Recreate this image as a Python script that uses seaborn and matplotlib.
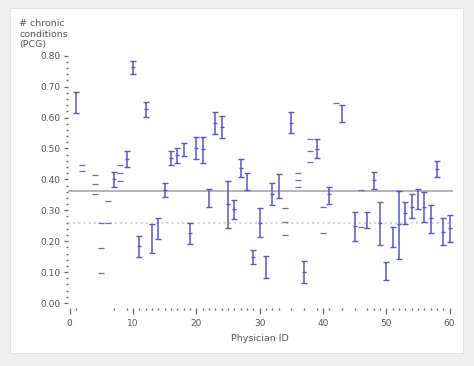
import numpy as np
import pandas as pd
import matplotlib
matplotlib.use("Agg")
import matplotlib.pyplot as plt
from matplotlib.patches import Rectangle
from matplotlib.ticker import FixedLocator
import seaborn as sns

# ---- data ----
# physicians with a full interval
full_id = [1, 7, 9, 10, 11, 12, 13, 14, 15, 16, 17, 18, 19, 20, 21, 22, 23, 24, 25, 26,
           27, 28, 29, 30, 31, 32, 33, 35, 37, 39, 41, 43, 45, 47, 48, 49, 50, 51, 52, 53,
           54, 55, 56, 57, 58, 59, 60]
full_lo = [0.616, 0.376, 0.439, 0.740, 0.150, 0.601, 0.161, 0.207, 0.344, 0.447, 0.454, 0.476,
           0.191, 0.465, 0.452, 0.312, 0.547, 0.534, 0.242, 0.271, 0.409, 0.366, 0.126, 0.213,
           0.080, 0.317, 0.339, 0.549, 0.066, 0.469, 0.320, 0.587, 0.202, 0.242, 0.368, 0.188,
           0.074, 0.180, 0.141, 0.256, 0.274, 0.303, 0.263, 0.228, 0.407, 0.188, 0.198]
full_mid = [np.nan, 0.400, 0.466, 0.763, 0.184, 0.627, np.nan, np.nan, 0.366, 0.468, 0.478, np.nan,
            0.228, 0.500, 0.497, np.nan, 0.584, 0.569, 0.320, 0.303, 0.438, np.nan, 0.148, 0.260,
            np.nan, 0.353, np.nan, 0.584, 0.101, 0.498, 0.353, np.nan, 0.249, np.nan, 0.398, 0.260,
            np.nan, np.nan, 0.255, 0.292, 0.312, np.nan, 0.312, 0.274, 0.433, 0.231, 0.242]
full_hi = [0.682, 0.425, 0.493, 0.784, 0.217, 0.650, 0.255, 0.276, 0.387, 0.493, 0.500, 0.519,
           0.260, 0.536, 0.536, 0.368, 0.619, 0.605, 0.396, 0.333, 0.467, 0.420, 0.172, 0.308,
           0.152, 0.389, 0.417, 0.619, 0.137, 0.530, 0.376, 0.641, 0.296, 0.296, 0.425, 0.328,
           0.134, 0.245, 0.363, 0.328, 0.352, 0.368, 0.360, 0.317, 0.460, 0.274, 0.285]

# physicians shown only by their tick marks (faint intervals)
faint_id = [2, 4, 5, 6, 8, 34, 36, 38, 40, 42, 46]
faint_lo = [0.427, 0.353, 0.096, 0.260, 0.396, 0.220, 0.376, 0.456, 0.228, np.nan, 0.245]
faint_mid = [np.nan, 0.384, 0.177, np.nan, 0.422, 0.263, 0.398, 0.493, np.nan, 0.646, np.nan]
faint_hi = [0.447, 0.414, 0.260, 0.331, 0.447, 0.306, 0.420, 0.530, 0.312, np.nan, 0.366]

overall_mean = 0.362
reference_level = 0.258

x_ticks = [0, 10, 20, 30, 40, 50, 60]
y_ticks = [0.0, 0.1, 0.2, 0.3, 0.4, 0.5, 0.6, 0.7, 0.8]
y_minor = [0.02, 0.04, 0.06, 0.08, 0.12, 0.14, 0.16, 0.18, 0.22, 0.24, 0.26, 0.28,
           0.32, 0.34, 0.36, 0.38, 0.42, 0.44, 0.46, 0.48, 0.52, 0.54, 0.56, 0.58,
           0.62, 0.64, 0.66, 0.68, 0.72, 0.74, 0.76, 0.78]
y_title = "# chronic\nconditions\n(PCG)"
x_title = "Physician ID"

# ---- styling ----
sns.set_style("white")
plt.rcParams["font.family"] = ["DejaVu Sans"]
BAR = "#5656c6"
TXT = "#555555"

fig = plt.figure(figsize=(4.74, 3.66), dpi=100)
fig.patch.set_facecolor("#efefef")
panel = Rectangle((10 / 474, 1 - 353 / 366), (463 - 10) / 474, (353 - 8) / 366,
                  transform=fig.transFigure, facecolor="white",
                  edgecolor="#e2e2e2", lw=0.8, zorder=-5)
fig.patches.append(panel)
ax = fig.add_axes([0.1428, 0.1585, 0.8122, 0.7145])
ax.set_zorder(2)
ax.set_facecolor("none")

full = pd.DataFrame({"id": full_id, "lo": full_lo, "mid": full_mid, "hi": full_hi})
faint = pd.DataFrame({"id": faint_id, "lo": faint_lo, "mid": faint_mid, "hi": faint_hi})

ax.axhline(overall_mean, color="#a0a0a0", lw=1.1, zorder=1)
ax.axhline(reference_level, color="#c4c4c4", lw=1.1, ls=(0, (1.2, 2.2)), zorder=1)

# full intervals
ax.vlines(full["id"], full["lo"], full["hi"], color=BAR, lw=1.1, zorder=3)
caps = pd.concat([full[["id", "lo"]].rename(columns={"lo": "v"}),
                  full[["id", "hi"]].rename(columns={"hi": "v"})])
sns.scatterplot(data=caps, x="id", y="v", marker="_", s=17, color=BAR,
                linewidth=1.0, ax=ax, zorder=4, legend=False)
sns.scatterplot(data=full.dropna(subset=["mid"]), x="id", y="mid", marker="_", s=12,
                color=BAR, linewidth=1.0, ax=ax, zorder=4, legend=False)

# faint intervals: only their tick marks show
fcaps = pd.concat([faint[["id", c]].rename(columns={c: "v"}) for c in ["lo", "mid", "hi"]]).dropna()
sns.scatterplot(data=fcaps, x="id", y="v", marker="_", s=17, color="#6a6ac8",
                linewidth=0.9, ax=ax, zorder=4, legend=False)

ax.set_xlim(-0.3, 60.5)
ax.set_ylim(-0.016, 0.83)
for s in ax.spines.values():
    s.set_visible(False)

ax.xaxis.set_major_locator(FixedLocator(x_ticks))
ax.xaxis.set_minor_locator(FixedLocator(full_id))
ax.set_xticklabels([str(t) for t in x_ticks])
ax.yaxis.set_major_locator(FixedLocator(y_ticks))
ax.yaxis.set_minor_locator(FixedLocator(y_minor))
ax.set_yticklabels([f"{t:.2f}" for t in y_ticks])
ax.tick_params(axis="both", which="major", labelsize=6.5, labelcolor=TXT,
               color="#666666", width=0.9, length=3, pad=2.5, left=True, bottom=True)
ax.tick_params(axis="both", which="minor", color="#666666", width=1.0, length=1.2,
               left=True, bottom=True)
ax.tick_params(axis="x", which="major", length=4, pad=4)

ax.set_xlabel(x_title, fontsize=6.8, color=TXT, labelpad=4)
ax.set_ylabel("")
fig.text(19 / 474, 1 - 19 / 366, y_title, fontsize=6.8, color=TXT, ha="left", va="top",
         linespacing=1.25)

fig.savefig("out.png", dpi=100, facecolor=fig.get_facecolor())
